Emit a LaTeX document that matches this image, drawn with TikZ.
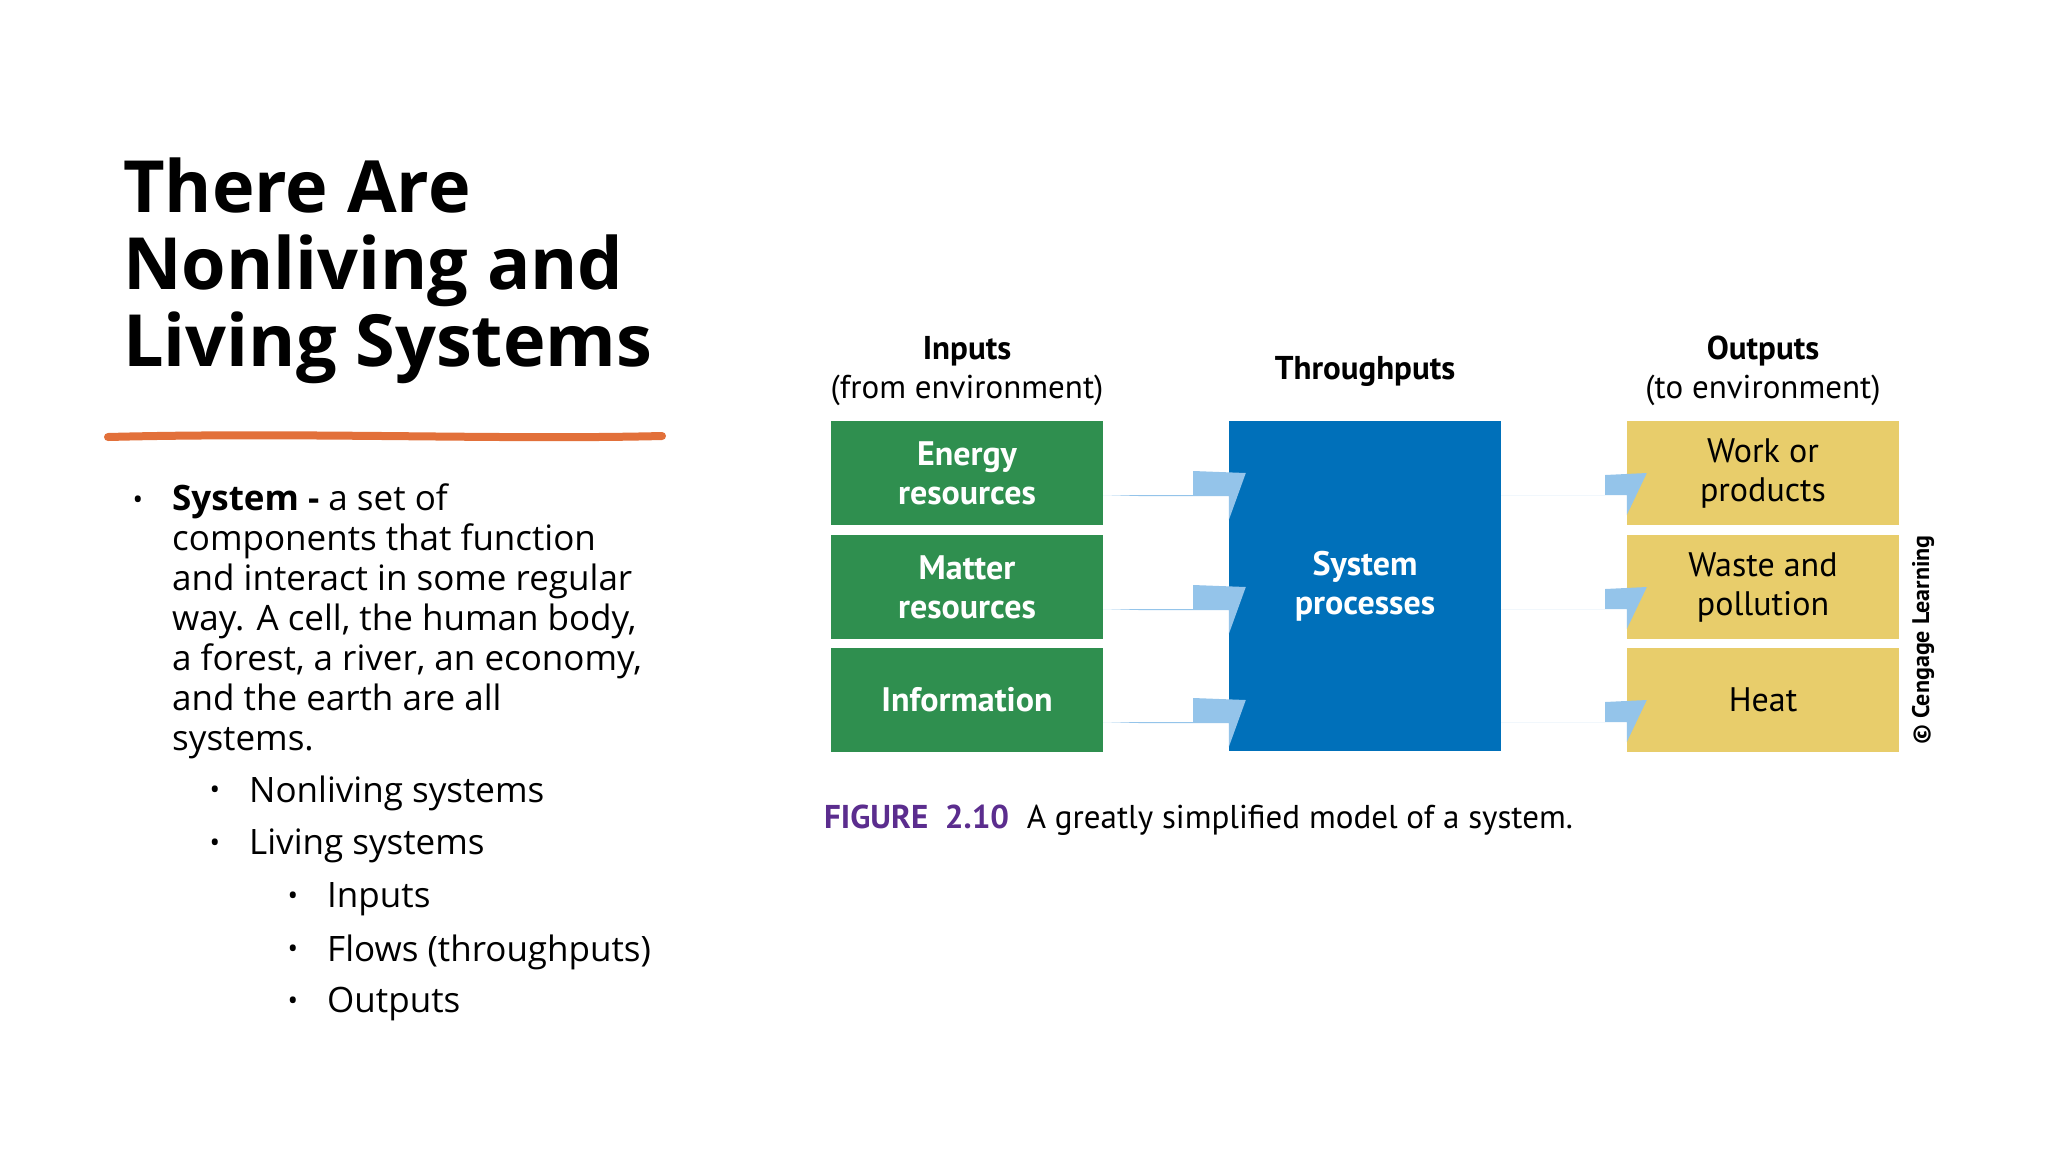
\documentclass[tikz,border=0pt]{standalone}
\usepackage{fontspec}
\setmainfont{Open Sans}
\newfontfamily\figf{PT Sans}
\definecolor{grn}{HTML}{2F8F4F}
\definecolor{blu}{HTML}{0070BA}
\definecolor{yel}{HTML}{E8CD6B}
\definecolor{arr}{HTML}{94C4EA}
\definecolor{org}{HTML}{E2703A}
\definecolor{pur}{HTML}{5B2D8E}
\begin{document}
\begin{tikzpicture}[x=1pt,y=-1pt,
  gbox/.style={fill=grn,draw=none,minimum width=272pt,minimum height=104pt,text=white,align=center,font=\figf\bfseries\fontsize{34}{39}\selectfont},
  ybox/.style={fill=yel,draw=none,minimum width=272pt,minimum height=104pt,text=black,align=center,font=\figf\fontsize{34}{39}\selectfont},
  hdr/.style={align=center,font=\figf\fontsize{33}{39}\selectfont},
  arw/.style={fill=arr,draw=none},
  body/.style={anchor=west,font=\fontsize{35}{40}\selectfont,inner sep=0pt},
  dot/.style={anchor=center,font=\fontsize{28}{30}\selectfont,inner sep=0pt}]
\useasboundingbox (0,0) rectangle (2048,1152);
\fill[white] (0,0) rectangle (2048,1152);
% title
\node[anchor=north west,align=left,inner sep=0pt,font=\bfseries\fontsize{72}{77}\selectfont] (title) at (123,158) {There Are\\Nonliving and\\Living Systems};
\draw[org,line width=8pt,line cap=round] (108,437) .. controls (300,432) and (500,440) .. (662,436);
% bullets
\node[dot] (b1) at (138,503) {•};
\node[body,anchor=north west,align=left] (t1) at (172,484) {\textbf{System -} a set of\\components that function\\and interact in some regular\\way. A cell, the human body,\\a forest, a river, an economy,\\and the earth are all\\systems.};
\node[dot] (b2) at (215,793) {•};
\node[body] (t2) at (249,793) {Nonliving systems};
\node[dot] (b3) at (215,846) {•};
\node[body] (t3) at (249,846) {Living systems};
\node[dot] (b4) at (293,899) {•};
\node[body] (t4) at (327,899) {Inputs};
\node[dot] (b5) at (293,952) {•};
\node[body] (t5) at (327,952) {Flows (throughputs)};
\node[dot] (b6) at (293,1004) {•};
\node[body] (t6) at (327,1004) {Outputs};
% figure
\node[hdr] (hin) at (967,371) {\textbf{Inputs}\\(from environment)};
\node[hdr] (hth) at (1365,371) {\textbf{Throughputs}};
\node[hdr] (hout) at (1763,371) {\textbf{Outputs}\\(to environment)};
\node[gbox] (g1) at (967,473) {Energy\\resources};
\node[gbox] (g2) at (967,587) {Matter\\resources};
\node[gbox] (g3) at (967,700) {Information};
\node[fill=blu,minimum width=272pt,minimum height=330pt,text=white,align=center,font=\figf\bfseries\fontsize{34}{39}\selectfont] (sp) at (1365,586) {System\\processes};
\node[ybox] (y1) at (1763,473) {Work or\\products};
\node[ybox] (y2) at (1763,587) {Waste and\\pollution};
\node[ybox] (y3) at (1763,700) {Heat};
\foreach \r in {1,2,3}{
  \fill[arw] ([yshift=-22pt]g\r.east) -- ++(90,0) -- ++(0,-24) -- ([xshift=17pt]sp.west |- g\r.east) -- ++(-17,47) -- ++(0,-24) -- ++(-90,0) -- cycle;
  \fill[arw] ([yshift=-22pt]sp.east |- y\r.west) -- ++(104,0) -- ++(0,-20) -- ([xshift=20pt]y\r.west) -- ++(-20,42) -- ++(0,-20) -- ++(-104,0) -- cycle;
}
\node[rotate=90,font=\figf\bfseries\fontsize{24}{28}\selectfont] (cl) at (1923,640) {© Cengage Learning};
\node[anchor=west,inner sep=0pt,font=\figf\fontsize{33}{38}\selectfont] (cap) at (824,820) {\textcolor{pur}{\bfseries FIGURE\ \ 2.10}\ \ A greatly simplified model of a system.};
\end{tikzpicture}
\end{document}
